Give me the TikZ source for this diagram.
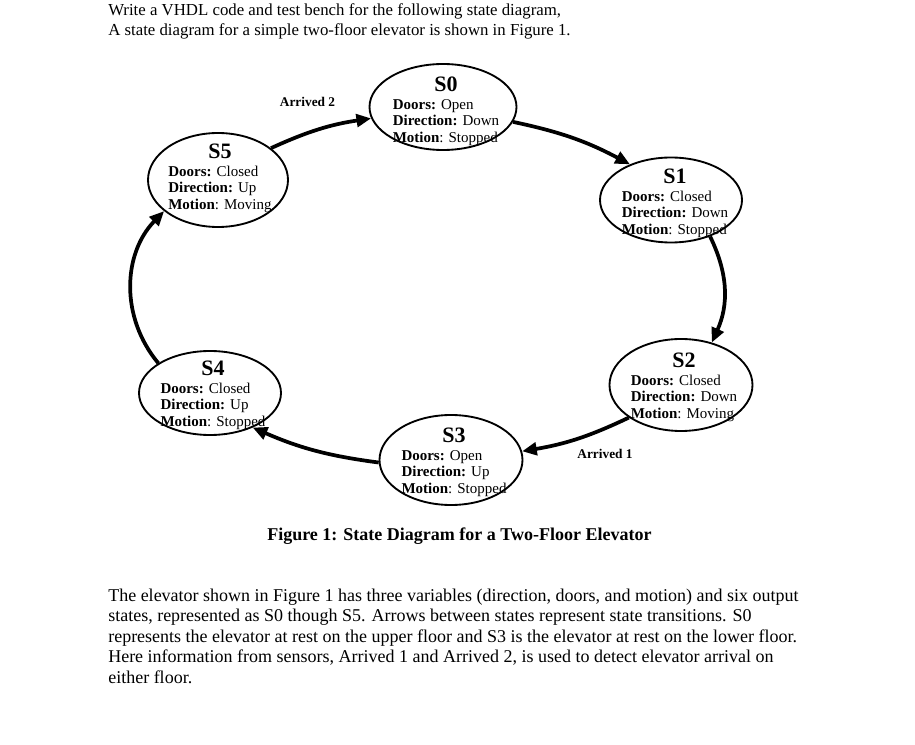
\documentclass[tikz,border=0pt]{standalone}
\usepackage{fontspec}
\setmainfont{Liberation Serif}
\usepackage{tikz}
\usetikzlibrary{arrows.meta, shapes.geometric}

\newcommand{\stateinfo}[4]{%
  \begin{tabular}{@{}l@{}}
  \multicolumn{1}{@{}c@{}}{\fontsize{16.5}{18}\selectfont\bfseries #1}\\[1pt]
  \textbf{Doors:} #2\\
  \textbf{Direction:} #3\\
  \textbf{Motion}: #4
  \end{tabular}}

\begin{document}
\begin{tikzpicture}[
  x=0.75pt, y=-0.75pt,
  state/.style={draw=black, line width=1.4pt, ellipse, inner sep=0pt},
  info/.style={inner sep=0pt, font=\fontsize{11.25}{12.5}\selectfont},
  lbl/.style={inner sep=0pt, font=\fontsize{10}{12}\selectfont\bfseries},
  para/.style={inner sep=0pt, font=\fontsize{12.6}{15}\selectfont},
  body/.style={inner sep=0pt, font=\fontsize{13.5}{15.4}\selectfont},
  a/.style={-{Triangle[length=11pt, width=9.5pt]}, line width=2.8pt}
]
\useasboundingbox (0,0) rectangle (915,745);
% page text
\node[para, anchor=base west] (intro) at (108,16) {\begin{tabular}[t]{@{}l@{}}
  Write a VHDL code and test bench for the following state diagram,\\
  A state diagram for a simple two-floor elevator is shown in Figure 1.
  \end{tabular}};
% states
\node[state, minimum width=110.25pt, minimum height=64.5pt] (s0) at (443,107) {};
\node[state, minimum width=106.5pt, minimum height=63.75pt] (s1) at (671,200) {};
\node[state, minimum width=107.25pt, minimum height=69pt] (s2) at (681,385) {};
\node[state, minimum width=107.25pt, minimum height=67.5pt] (s3) at (451,460) {};
\node[state, minimum width=106.5pt, minimum height=63pt] (s4) at (210,393) {};
\node[state, minimum width=105pt, minimum height=70.5pt] (s5) at (218,180) {};
\node[info] (s0txt) at (446,112) {\stateinfo{S0}{Open}{Down}{Stopped}};
\node[info] (s1txt) at (675,204) {\stateinfo{S1}{Closed}{Down}{Stopped}};
\node[info] (s2txt) at (684,388) {\stateinfo{S2}{Closed}{Down}{Moving}};
\node[info] (s3txt) at (454,463) {\stateinfo{S3}{Open}{Up}{Stopped}};
\node[info] (s4txt) at (213,396) {\stateinfo{S4}{Closed}{Up}{Stopped}};
\node[info] (s5txt) at (220,179) {\stateinfo{S5}{Closed}{Up}{Moving}};
% transitions
\draw[a] (s0.-12) to[bend left=8] (s1.139);
\draw[a] (s1.-43) to[bend left=25] (s2.54);
\draw[a] (s2.212) to[bend left=8] (s3.7);
\draw[a] (s3.182) to[bend left=8] (s4.-39);
\draw[a] (s4.150) to[bend left=42] (s5.210);
\draw[a] (s5.31) to[bend left=8] (s0.189);
\node[lbl, anchor=base] (arr2) at (307.5,107) {Arrived 2};
\node[lbl, anchor=base] (arr1) at (605,459) {Arrived 1};
% caption and text below
\node[body, anchor=base west] (cap) at (267,541) {\bfseries Figure 1: State Diagram for a Two-Floor Elevator};
\node[body, anchor=base west] (text) at (108,601) {\begin{tabular}[t]{@{}l@{}}
  The elevator shown in Figure 1 has three variables (direction, doors, and motion) and six output\\
  states, represented as S0 though S5. Arrows between states represent state transitions. S0\\
  represents the elevator at rest on the upper floor and S3 is the elevator at rest on the lower floor.\\
  Here information from sensors, Arrived 1 and Arrived 2, is used to detect elevator arrival on\\
  either floor.
  \end{tabular}};
\end{tikzpicture}
\end{document}
